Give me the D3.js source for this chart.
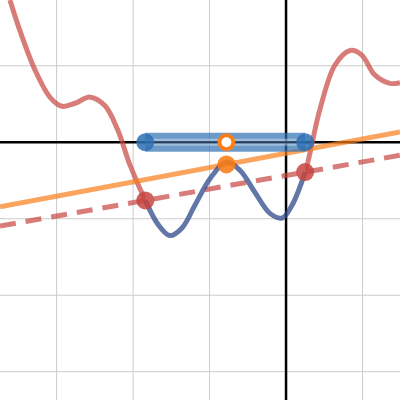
<!DOCTYPE html>
<html><head><meta charset="utf-8">
<script src="https://cdn.jsdelivr.net/npm/d3@7"></script>
<style>body{margin:0}svg{display:block}</style></head>
<body><svg id="c" width="400" height="400"></svg>
<script>
const gridX=[-3,-2,-1,0,1];
const gridY=[1,0,-1,-2,-3];
const redX=[-3.61,-3.48,-3.28,-3.08,-2.93,-2.76,-2.56,-2.37,-2.20,-2.04,-1.84,-1.67,-1.52,-1.36,-1.19,-0.99,-0.78,-0.60,-0.41,-0.21,-0.05,0.08,0.25,0.44,0.64,0.84,0.99,1.16,1.36,1.49];
const redY=[1.86,1.46,0.94,0.58,0.47,0.51,0.59,0.48,0.16,-0.30,-0.76,-1.08,-1.22,-1.12,-0.82,-0.47,-0.26,-0.37,-0.65,-0.93,-0.99,-0.82,-0.39,0.42,1.01,1.20,1.14,0.88,0.77,0.78];
const blueX=[-1.84,-1.67,-1.52,-1.36,-1.19,-0.99,-0.78,-0.60,-0.41,-0.21,-0.05,0.08,0.25];
const blueY=[-0.76,-1.08,-1.22,-1.12,-0.82,-0.47,-0.26,-0.37,-0.65,-0.93,-0.99,-0.82,-0.39];
const secant=[[-1.84,-0.76],[0.25,-0.39]];
const tangentPt=[-0.78,-0.29];
const tangentSlope=0.187;
const intervalX=[-1.84,0.25];
const midX=-0.78;

const svg=d3.select("#c");
const x=d3.scaleLinear().domain([-3.74,1.49]).range([0,400]);
const y=d3.scaleLinear().domain([-3.37,1.86]).range([400,0]);
svg.append("rect").attr("width",400).attr("height",400).attr("fill","#fff");
svg.selectAll(".gx").data(gridX).join("line").attr("x1",d=>x(d)).attr("x2",d=>x(d)).attr("y1",0).attr("y2",400).attr("stroke","#ccc").attr("stroke-width",1);
svg.selectAll(".gy").data(gridY).join("line").attr("y1",d=>y(d)).attr("y2",d=>y(d)).attr("x1",0).attr("x2",400).attr("stroke","#ccc").attr("stroke-width",1);
svg.append("line").attr("x1",x(0)).attr("x2",x(0)).attr("y1",0).attr("y2",400).attr("stroke","#000").attr("stroke-width",2.5);
svg.append("line").attr("y1",y(0)).attr("y2",y(0)).attr("x1",0).attr("x2",400).attr("stroke","#000").attr("stroke-width",2.5);
const line=d3.line().x(d=>x(d[0])).y(d=>y(d[1])).curve(d3.curveCatmullRom);
const redPts=redX.map((v,i)=>[v,redY[i]]);
const redL=line(redPts).split("");
// draw red only outside the interval (blue covers inside)
svg.append("clipPath").attr("id","out").selectAll("rect").data([[x.range()[0],x(intervalX[0])],[x(intervalX[1]),x.range()[1]]]).join("rect")
 .attr("x",d=>d[0]).attr("width",d=>d[1]-d[0]).attr("y",0).attr("height",400);
svg.append("path").attr("d",line(redPts)).attr("clip-path","url(#out)").attr("fill","none").attr("stroke","#c74440").attr("stroke-opacity",0.7).attr("stroke-width",5);
const sl=(secant[1][1]-secant[0][1])/(secant[1][0]-secant[0][0]);
const xd=x.domain();
svg.append("line").attr("x1",x(xd[0])).attr("y1",y(secant[0][1]+sl*(xd[0]-secant[0][0]))).attr("x2",x(xd[1])).attr("y2",y(secant[0][1]+sl*(xd[1]-secant[0][0])))
 .attr("stroke","#c74440").attr("stroke-opacity",0.7).attr("stroke-width",5).attr("stroke-dasharray","16,10");
svg.append("line").attr("x1",x(xd[0])).attr("y1",y(tangentPt[1]+tangentSlope*(xd[0]-tangentPt[0]))).attr("x2",x(xd[1])).attr("y2",y(tangentPt[1]+tangentSlope*(xd[1]-tangentPt[0])))
 .attr("stroke","#fa7e19").attr("stroke-opacity",0.7).attr("stroke-width",5);
svg.append("path").attr("d",line(blueX.map((v,i)=>[v,blueY[i]]))).attr("fill","none").attr("stroke","#2d4a8a").attr("stroke-opacity",0.75).attr("stroke-width",5);
svg.append("line").attr("x1",x(intervalX[0])).attr("x2",x(intervalX[1])).attr("y1",y(0)).attr("y2",y(0)).attr("stroke","#2d70b3").attr("stroke-opacity",0.7).attr("stroke-width",19);
svg.append("line").attr("x1",x(intervalX[0])).attr("x2",x(intervalX[1])).attr("y1",y(0)).attr("y2",y(0)).attr("stroke","#fff").attr("stroke-opacity",0.35).attr("stroke-width",7);
svg.append("line").attr("x1",x(intervalX[0])).attr("x2",x(intervalX[1])).attr("y1",y(0)).attr("y2",y(0)).attr("stroke","#0a1e3c").attr("stroke-opacity",0.7).attr("stroke-width",2);
svg.selectAll(".ep").data(intervalX).join("circle").attr("cx",d=>x(d)).attr("cy",y(0)).attr("r",9).attr("fill","#2d70b3").attr("fill-opacity",0.85);
svg.selectAll(".rp").data(secant).join("circle").attr("cx",d=>x(d[0])).attr("cy",d=>y(d[1])).attr("r",9).attr("fill","#c74440").attr("fill-opacity",0.85);
svg.append("circle").attr("cx",x(tangentPt[0])).attr("cy",y(tangentPt[1])).attr("r",9).attr("fill","#fa7e19").attr("fill-opacity",0.9);
svg.append("circle").attr("cx",x(midX)).attr("cy",y(0)).attr("r",7).attr("fill","#fff").attr("stroke","#fa7e19").attr("stroke-width",4);
</script></body></html>
